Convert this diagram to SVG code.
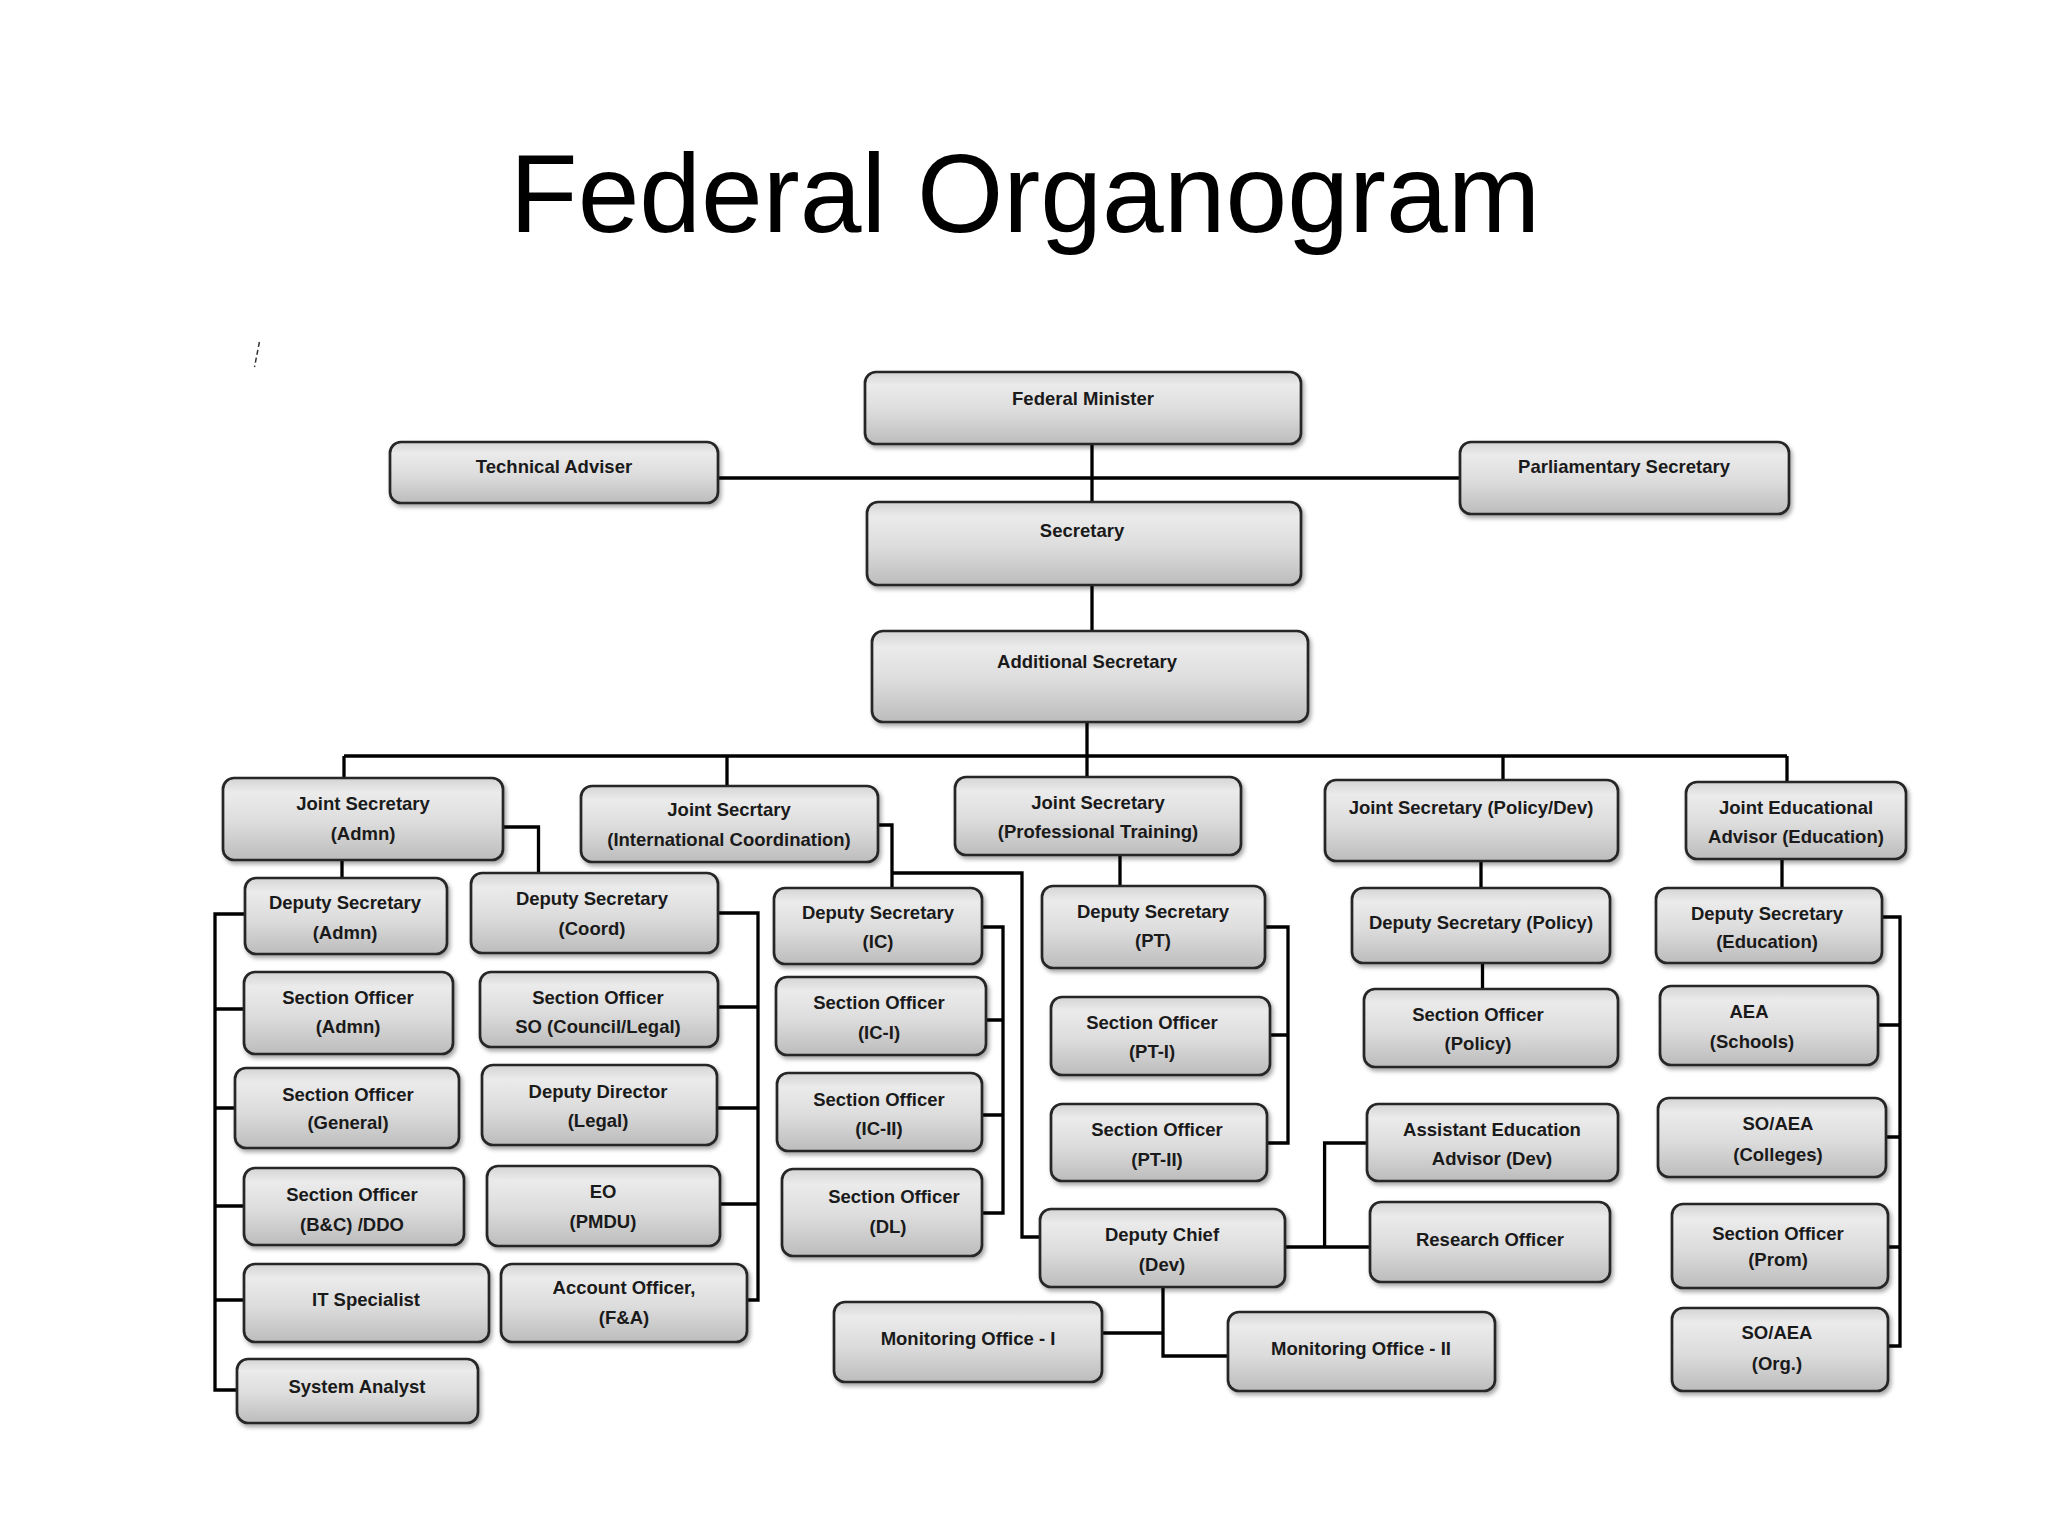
<svg xmlns="http://www.w3.org/2000/svg" width="2048" height="1536" viewBox="0 0 2048 1536">
<style>
.bx{fill:url(#g);stroke:#262626;stroke-width:2.7;filter:url(#sh)}
.t{font-family:"Liberation Sans",Arial,sans-serif;font-weight:bold;font-size:18.5px;fill:#1a1a1a;text-anchor:middle}
.ttl{font-family:"Liberation Sans",Arial,sans-serif;font-size:111px;fill:#000;text-anchor:middle}
.c{fill:none;stroke:#000;stroke-width:3.3;stroke-linejoin:miter}
</style>
<defs>
<linearGradient id="g" x1="0" y1="0" x2="0" y2="1">
<stop offset="0" stop-color="#d4d4d4"/>
<stop offset="0.18" stop-color="#ebebeb"/>
<stop offset="0.55" stop-color="#dcdcdc"/>
<stop offset="1" stop-color="#bcbcbc"/>
</linearGradient>
<filter id="sh" x="-10%" y="-10%" width="125%" height="135%">
<feDropShadow dx="2" dy="3" stdDeviation="2" flood-color="#000" flood-opacity="0.35"/>
</filter>
</defs>
<rect width="2048" height="1536" fill="#fff"/>
<text class="ttl" x="1025" y="232">Federal Organogram</text>
<line x1="259.4" y1="342" x2="254.5" y2="367" stroke="#333" stroke-width="1.5" stroke-dasharray="5,3"/>

<g id="connectors">
<path class="c" d="M1092 444V502M718 478H1460M1092 585V631M1087 722V777"/>
<path class="c" d="M344 756H1787M344 756V778M727 756V786M1503 756V780M1787 756V782"/>
<path class="c" d="M342 860V878M503 827H538.5V873"/>
<path class="c" d="M245 914H215V1390H237M215 1009H244M215 1108H235M215 1206H244M215 1300H244"/>
<path class="c" d="M718 913H758V1300H747M718 1007H758M717 1108H758M720 1204H758"/>
<path class="c" d="M878 825H892V888M892 873H1022V1237H1040"/>
<path class="c" d="M982 927H1003V1213H982M986 1020H1003M982 1115H1003"/>
<path class="c" d="M1120 855V886M1265 927H1288V1143H1267M1270 1035H1288"/>
<path class="c" d="M1285 1247H1370M1324.6 1247V1143H1367M1163 1287V1356H1228M1102 1333H1163"/>
<path class="c" d="M1481 861V888M1482.5 963V989M1782 859V888"/>
<path class="c" d="M1882 917H1900V1346H1888M1878 1025H1900M1886 1137H1900M1888 1247H1900"/>
</g>

<g id="federal-minister"><rect class="bx" x="865" y="372" width="436" height="72" rx="11"/><text class="t" x="1083" y="405">Federal Minister</text></g>
<g id="technical-adviser"><rect class="bx" x="390" y="442" width="328" height="61" rx="11"/><text class="t" x="554" y="473">Technical Adviser</text></g>
<g id="parliamentary-secretary"><rect class="bx" x="1460" y="442" width="329" height="72" rx="11"/><text class="t" x="1624" y="473">Parliamentary Secretary</text></g>
<g id="secretary"><rect class="bx" x="867" y="502" width="434" height="83" rx="11"/><text class="t" x="1082" y="537">Secretary</text></g>
<g id="additional-secretary"><rect class="bx" x="872" y="631" width="436" height="91" rx="11"/><text class="t" x="1087" y="668">Additional Secretary</text></g>

<g id="js-admn"><rect class="bx" x="223" y="778" width="280" height="82" rx="11"/><text class="t" x="363" y="810">Joint Secretary</text><text class="t" x="363" y="840">(Admn)</text></g>
<g id="js-intl"><rect class="bx" x="581" y="786" width="297" height="76" rx="11"/><text class="t" x="729" y="816">Joint Secrtary</text><text class="t" x="729" y="846">(International Coordination)</text></g>
<g id="js-pt"><rect class="bx" x="955" y="777" width="286" height="78" rx="11"/><text class="t" x="1098" y="809">Joint Secretary</text><text class="t" x="1098" y="838">(Professional Training)</text></g>
<g id="js-policy-dev"><rect class="bx" x="1325" y="780" width="293" height="81" rx="11"/><text class="t" x="1471" y="814">Joint Secretary (Policy/Dev)</text></g>
<g id="jea-education"><rect class="bx" x="1686" y="782" width="220" height="77" rx="11"/><text class="t" x="1796" y="814">Joint Educational</text><text class="t" x="1796" y="843">Advisor (Education)</text></g>

<g id="ds-admn"><rect class="bx" x="245" y="878" width="202" height="76" rx="11"/><text class="t" x="345" y="909">Deputy Secretary</text><text class="t" x="345" y="939">(Admn)</text></g>
<g id="ds-coord"><rect class="bx" x="471" y="873" width="247" height="80" rx="11"/><text class="t" x="592" y="905">Deputy Secretary</text><text class="t" x="592" y="935">(Coord)</text></g>
<g id="so-admn"><rect class="bx" x="244" y="972" width="209" height="82" rx="11"/><text class="t" x="348" y="1004">Section Officer</text><text class="t" x="348" y="1033">(Admn)</text></g>
<g id="so-council-legal"><rect class="bx" x="480" y="972" width="238" height="75" rx="11"/><text class="t" x="598" y="1004">Section Officer</text><text class="t" x="598" y="1033">SO (Council/Legal)</text></g>
<g id="so-general"><rect class="bx" x="235" y="1068" width="224" height="80" rx="11"/><text class="t" x="348" y="1101">Section Officer</text><text class="t" x="348" y="1129">(General)</text></g>
<g id="dd-legal"><rect class="bx" x="482" y="1065" width="235" height="80" rx="11"/><text class="t" x="598" y="1098">Deputy Director</text><text class="t" x="598" y="1127">(Legal)</text></g>
<g id="so-bc-ddo"><rect class="bx" x="244" y="1168" width="220" height="77" rx="11"/><text class="t" x="352" y="1201">Section Officer</text><text class="t" x="352" y="1231">(B&amp;C) /DDO</text></g>
<g id="eo-pmdu"><rect class="bx" x="487" y="1166" width="233" height="80" rx="11"/><text class="t" x="603" y="1198">EO</text><text class="t" x="603" y="1228">(PMDU)</text></g>
<g id="it-specialist"><rect class="bx" x="244" y="1264" width="245" height="78" rx="11"/><text class="t" x="366" y="1306">IT Specialist</text></g>
<g id="account-officer"><rect class="bx" x="501" y="1264" width="246" height="78" rx="11"/><text class="t" x="624" y="1294">Account Officer,</text><text class="t" x="624" y="1324">(F&amp;A)</text></g>
<g id="system-analyst"><rect class="bx" x="237" y="1359" width="241" height="64" rx="11"/><text class="t" x="357" y="1393">System Analyst</text></g>

<g id="ds-ic"><rect class="bx" x="774" y="888" width="208" height="76" rx="11"/><text class="t" x="878" y="919">Deputy Secretary</text><text class="t" x="878" y="948">(IC)</text></g>
<g id="so-ic1"><rect class="bx" x="776" y="977" width="210" height="78" rx="11"/><text class="t" x="879" y="1009">Section Officer</text><text class="t" x="879" y="1039">(IC-I)</text></g>
<g id="so-ic2"><rect class="bx" x="777" y="1073" width="205" height="78" rx="11"/><text class="t" x="879" y="1106">Section Officer</text><text class="t" x="879" y="1135">(IC-II)</text></g>
<g id="so-dl"><rect class="bx" x="782" y="1169" width="200" height="87" rx="11"/><text class="t" x="894" y="1203">Section Officer</text><text class="t" x="888" y="1233">(DL)</text></g>

<g id="ds-pt"><rect class="bx" x="1042" y="886" width="223" height="82" rx="11"/><text class="t" x="1153" y="918">Deputy Secretary</text><text class="t" x="1153" y="947">(PT)</text></g>
<g id="so-pt1"><rect class="bx" x="1051" y="997" width="219" height="78" rx="11"/><text class="t" x="1152" y="1029">Section Officer</text><text class="t" x="1152" y="1058">(PT-I)</text></g>
<g id="so-pt2"><rect class="bx" x="1051" y="1104" width="216" height="77" rx="11"/><text class="t" x="1157" y="1136">Section Officer</text><text class="t" x="1157" y="1166">(PT-II)</text></g>
<g id="deputy-chief"><rect class="bx" x="1040" y="1209" width="245" height="78" rx="11"/><text class="t" x="1162" y="1241">Deputy Chief</text><text class="t" x="1162" y="1271">(Dev)</text></g>
<g id="monitoring-1"><rect class="bx" x="834" y="1302" width="268" height="80" rx="11"/><text class="t" x="968" y="1345">Monitoring Office - I</text></g>
<g id="monitoring-2"><rect class="bx" x="1228" y="1312" width="267" height="79" rx="11"/><text class="t" x="1361" y="1355">Monitoring Office - II</text></g>

<g id="ds-policy"><rect class="bx" x="1352" y="888" width="258" height="75" rx="11"/><text class="t" x="1481" y="929">Deputy Secretary (Policy)</text></g>
<g id="so-policy"><rect class="bx" x="1364" y="989" width="254" height="78" rx="11"/><text class="t" x="1478" y="1021">Section Officer</text><text class="t" x="1478" y="1050">(Policy)</text></g>
<g id="aea-dev"><rect class="bx" x="1367" y="1104" width="251" height="77" rx="11"/><text class="t" x="1492" y="1136">Assistant Education</text><text class="t" x="1492" y="1165">Advisor (Dev)</text></g>
<g id="research-officer"><rect class="bx" x="1370" y="1202" width="240" height="80" rx="11"/><text class="t" x="1490" y="1246">Research Officer</text></g>

<g id="ds-education"><rect class="bx" x="1656" y="888" width="226" height="75" rx="11"/><text class="t" x="1767" y="920">Deputy Secretary</text><text class="t" x="1767" y="948">(Education)</text></g>
<g id="aea-schools"><rect class="bx" x="1660" y="986" width="218" height="79" rx="11"/><text class="t" x="1749" y="1018">AEA</text><text class="t" x="1752" y="1048">(Schools)</text></g>
<g id="so-aea-colleges"><rect class="bx" x="1658" y="1098" width="228" height="79" rx="11"/><text class="t" x="1778" y="1130">SO/AEA</text><text class="t" x="1778" y="1161">(Colleges)</text></g>
<g id="so-prom"><rect class="bx" x="1672" y="1204" width="216" height="84" rx="11"/><text class="t" x="1778" y="1240">Section Officer</text><text class="t" x="1778" y="1266">(Prom)</text></g>
<g id="so-aea-org"><rect class="bx" x="1672" y="1308" width="216" height="83" rx="11"/><text class="t" x="1777" y="1339">SO/AEA</text><text class="t" x="1777" y="1370">(Org.)</text></g>
</svg>
